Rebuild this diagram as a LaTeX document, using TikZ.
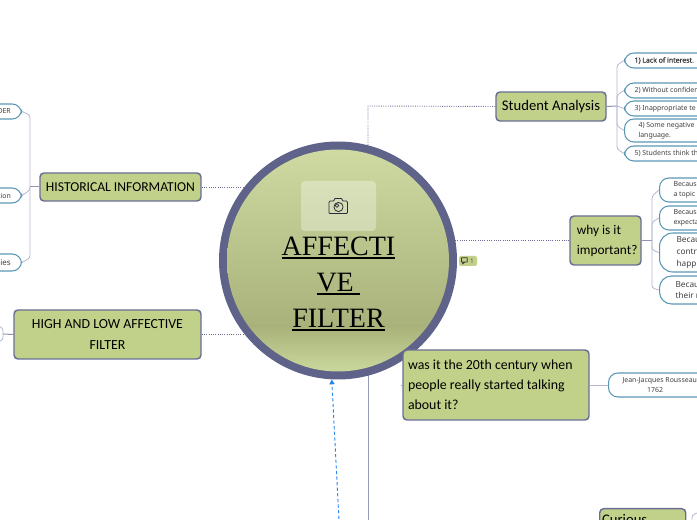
\documentclass[tikz,border=0pt]{standalone}
\usepackage{fontspec}
\setmainfont{Liberation Serif}
\newfontfamily\smallf{Noto Sans}
\newfontfamily\smallbf[FakeBold=1.6]{Noto Sans}
\newfontfamily\handf{Carlito}
\usetikzlibrary{arrows.meta,shapes.misc}
\definecolor{topicfill}{HTML}{C2D18A}
\definecolor{topicline}{HTML}{6A6E96}
\definecolor{ringc}{HTML}{5F6289}
\definecolor{subline}{HTML}{5B97B5}
\definecolor{branchc}{HTML}{B4B6CF}
\definecolor{linkc}{HTML}{2A85E8}
\definecolor{gA}{HTML}{CEDAA2}
\definecolor{gB}{HTML}{A8B27A}
\definecolor{gC}{HTML}{CBD89C}
\newcommand{\uln}[2][0pt]{\setbox0\hbox{#2\kern#1}\rlap{\rule[-3.2pt]{\wd0}{1.6pt}}\box0}
\tikzset{
  x=0.75pt,y=-0.75pt,
  topic/.style={draw=topicline,line width=1.1pt,fill=topicfill,rounded corners=3pt,inner sep=0pt,text=black,font=\handf\fontsize{11}{15}\selectfont},
  subnode/.style={draw=subline,line width=0.8pt,fill=white,rounded corners=7pt,inner sep=0pt,text=black!75,font=\smallf\fontsize{5.2}{7.4}\selectfont,align=flush left},
  leftsub/.style={subnode,anchor=east,minimum width=90pt,inner xsep=8pt,text width=74pt,align=flush right},
  trunk/.style={draw=topicline,line width=0.7pt,densely dotted},
  trunksolid/.style={draw=branchc!60!topicline,line width=0.7pt},
  stem/.style={draw=topicline!75!white,line width=0.75pt},
  branch/.style={draw=branchc,line width=0.6pt,rounded corners=2pt},
}
\begin{document}
\begin{tikzpicture}
\useasboundingbox (0,0) rectangle (697,520);
\clip (0,0) rectangle (697,520);
% free-end coordinates and hubs
\coordinate (trunkbottom) at (368,530);
\coordinate (trunktop) at (368,160);
\coordinate (trunkknee) at (368,106);
\coordinate (trunkstart) at (368,365);
\coordinate (wastick) at (400.5,385);
\coordinate (linkend) at (339.5,530);
\coordinate (hubH) at (30,187);
\coordinate (hubL) at (3,334);
\coordinate (hubS) at (617,106);
\coordinate (hubW) at (652,240.5);
\coordinate (hubX) at (692,0);
\coordinate (curchild) at (702,511);
\coordinate (hlA) at (-6,324);
\coordinate (hlB) at (-6,343);
% centre
\node[circle,minimum size=178.5pt,inner sep=0pt] (centre) at (338,260.5) {};
% topics
\node[topic,minimum width=120.75pt,minimum height=21pt,font=\handf\fontsize{10.2}{14}\selectfont] (hist) at (120.5,187) {HISTORICAL INFORMATION};
\node[topic,minimum width=140.25pt,minimum height=36.75pt,align=center,font=\handf\fontsize{10.4}{16}\selectfont] (high) at (107.5,334.5) {HIGH AND LOW AFFECTIVE\\FILTER};
\node[topic,minimum width=82.5pt,minimum height=21.75pt] (student) at (551,106.5) {Student Analysis};
\node[topic,minimum width=53.25pt,minimum height=36.75pt,text width=43pt,align=flush left,font=\handf\fontsize{10}{15}\selectfont] (why) at (605.5,240.5) {why is it\\important?};
\node[topic,minimum width=64.5pt,inner ysep=4pt,text width=61pt,align=flush left,anchor=north west] (curious) at (599,508) {Curious\\[14pt]\strut};
\coordinate (hubC) at (curious.east -| hubX);
% trunks
\path[trunk] (hist.east) -- (hist.east -| centre.center);
\path[trunk] (high.east) -- (high.east -| centre.center);
\path[trunk] (student.west) -- (trunkknee) -- (trunktop);
\path[trunk] (why.west) -- (why.west -| centre.center);
\path[trunksolid] (trunkstart) -- (trunkbottom);
% left children
\node[leftsub,minimum height=11.25pt] (l1) at (22,111.5) {DER};
\node[leftsub,minimum height=11.25pt] (l2) at (22,195.5) {tion};
\node[leftsub,minimum height=12.75pt,font=\smallf\fontsize{6}{7.4}\selectfont] (l3) at (22,262.5) {ies};
\path[stem] (hist.west) -- (hubH);
\path[branch] (hubH) -- (30,115) -- (l1.east);
\path[branch] (hubH) -- (30,190) -- (l2.east);
\path[branch] (hubH) -- (30,258) -- (l3.east);
\path[stem] (high.west) -- (hubL);
\path[branch] (hubL) -- (3,328) -- (hlA);
\path[branch] (hubL) -- (3,340) -- (hlB);
% student children
\tikzset{sa/.style={subnode,anchor=west,minimum width=90pt,text width=75pt}}
\node[sa,minimum height=11.25pt,font=\smallbf\fontsize{5.2}{7.4}\selectfont] (s1) at (624,60.5) {1) Lack of interest.};
\node[sa,minimum height=11.25pt] (s2) at (624,90.5) {2) Without confiden};
\node[sa,minimum height=11.25pt] (s3) at (624,108.5) {3) Inappropriate te};
\node[sa,minimum height=17.25pt,text width=69pt] (s4) at (624,130.5) {4) Some negative\\language.};
\node[sa,minimum height=11.25pt] (s5) at (624,153.5) {5) Students think th};
\path[stem] (student.east) -- (hubS);
\path[branch] (hubS) -- (617,65) -- (s1.west);
\path[branch] (hubS) -- (617,95) -- (s2.west);
\path[branch] (hubS) -- (s3.west);
\path[branch] (hubS) -- (617,126) -- (s4.west);
\path[branch] (hubS) -- (617,149) -- (s5.west);
% why children
\tikzset{wa/.style={subnode,anchor=west,minimum width=90pt,text width=69pt}}
\node[wa,minimum height=18pt] (w1) at (659,190) {Becaus\\a topic};
\node[wa,minimum height=18pt] (w2) at (659,218) {Becaus\\expecta};
\node[wa,minimum height=29.25pt,font=\smallf\fontsize{6.2}{8.7}\selectfont,text width=64.5pt,rounded corners=10pt] (w3) at (659,252.5) {Becau\\contr\\happ};
\node[wa,minimum height=21pt,font=\smallf\fontsize{6.2}{8}\selectfont,text width=66pt,rounded corners=9pt] (w4) at (659,290) {Becau\\their r};
\path[stem] (why.east) -- (hubW);
\path[branch] (hubW) -- (652,196) -- (w1.west);
\path[branch] (hubW) -- (652,222) -- (w2.west);
\path[branch] (hubW) -- (652,250) -- (w3.west);
\path[branch] (hubW) -- (652,288) -- (w4.west);
% curious branch
\path[branch] (curious.east) -- (hubC);
\path[branch] (hubC) -- (692,515) -- (curchild);
% centre disc
\fill[ringc] (centre.center) circle[radius=119];
\begin{scope}
\clip (centre.center) circle[radius=111];
\shade[top color=gA,bottom color=gB] (227,149) rectangle (449,326);
\shade[top color=gB,bottom color=gC] (227,326) rectangle (449,372);
\end{scope}
% this topic sits over the disc edge
\node[topic,minimum width=139.5pt,minimum height=52.5pt,text width=132pt,align=flush left,font=\handf\fontsize{10.4}{15}\selectfont] (was) at (496,385) {was it the 20th century when\\people really started talking\\about it?};
\path[trunksolid] (was.west) -- (wastick);
\node[subnode,anchor=west,minimum width=90pt,minimum height=18pt,text width=69pt,font=\smallf\fontsize{5.2}{7.2}\selectfont] (j1) at (608,385) {Jean-Jacques Rousseau\\\hspace*{18.5pt}1762};
\path[branch] (was.east) -- (j1.west);
% link
\draw[linkc,line width=0.7pt,dash pattern=on 2.4pt off 1.8pt,-{Triangle[length=3.5pt,width=4pt]}] (linkend) -- (centre.267.6);
\fill[white,opacity=0.32,rounded corners=3pt] (301,181) rectangle (376,231);
\begin{scope}[draw=black!60!topicline,line width=0.6pt,line join=round]
\draw (329.5,213.5) -- (346.5,213.5) .. controls (347.5,213.5) and (347.5,213) .. (347.5,212.5) -- (347.5,202.5) .. controls (347.5,201.5) and (347,201) .. (346.5,201) -- (343,201) -- (341.5,198.5) -- (335,198.5) -- (333.5,201) -- (330,201) .. controls (329,201) and (329,201.5) .. (329,202.5) -- (329,212.5) .. controls (329,213) and (329,213.5) .. (329.5,213.5) -- cycle;
\draw (338.5,207) circle[radius=4.6];
\draw (337,205.5) circle[radius=1.9];
\end{scope}
\node[inner sep=0pt,font=\fontsize{21}{27}\selectfont,text=black,align=center] (title) at (338.5,284) {\uln{AFFECTI}\\\uln[5pt]{VE}\\\uln{FILTER}};
% comment badge
\node[fill=topicfill,rounded corners=1.5pt,minimum width=13.5pt,minimum height=7.5pt,inner sep=0pt,font=\smallf\fontsize{4.8}{5}\selectfont,text=black!70] (badge) at (468,261) {\hspace{6pt}1};
\draw[black!80,line width=0.5pt,line join=round] (461.5,257.8) rectangle (467.3,262) (463,262) -- (462.5,264) -- (465,262);
\end{tikzpicture}
\end{document}
